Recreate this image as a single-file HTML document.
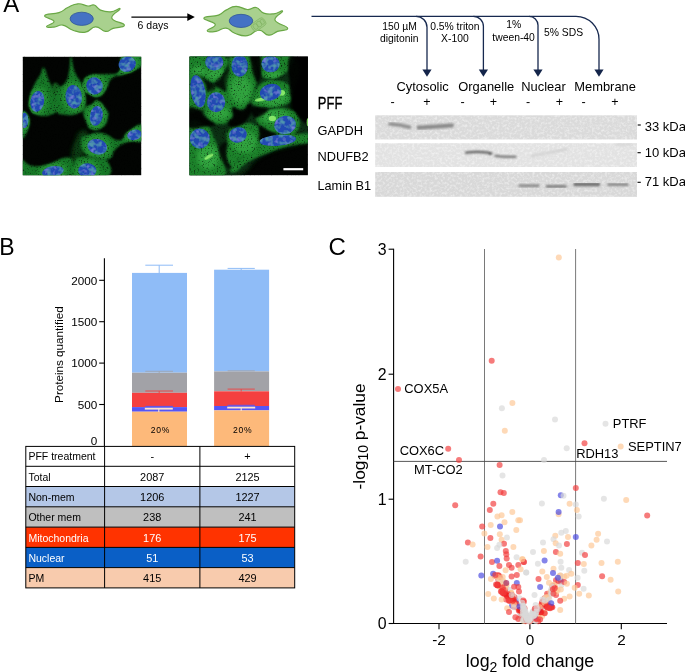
<!DOCTYPE html>
<html lang="en"><head><meta charset="utf-8"><title>Figure</title>
<style>html,body{margin:0;padding:0;background:#fff;overflow:hidden}svg{display:block}text{font-family:"Liberation Sans",Arial,sans-serif;fill:#000}</style>
</head><body>
<svg width="685" height="672" viewBox="0 0 685 672">
<rect width="685" height="672" fill="#fff"/>
<defs>
<filter id="b1" x="-20%" y="-50%" width="140%" height="200%"><feGaussianBlur stdDeviation="1.1 0.8"/></filter>
<filter id="b2" x="-20%" y="-20%" width="140%" height="140%"><feGaussianBlur stdDeviation="2.2"/></filter>
<filter id="b3" x="-20%" y="-20%" width="140%" height="140%"><feGaussianBlur stdDeviation="0.7"/></filter>
<filter id="b4" x="-20%" y="-20%" width="140%" height="140%"><feGaussianBlur stdDeviation="1.3"/></filter>
<filter id="noise" x="0" y="0" width="100%" height="100%">
  <feTurbulence type="fractalNoise" baseFrequency="0.7" numOctaves="2" seed="3" result="n"/>
  <feColorMatrix in="n" type="matrix" values="0 0 0 0 0  0 0 0 0 0  0 0 0 0 0  3 0 0 0 -1.7"/>
  <feComposite in2="SourceGraphic" operator="in"/>
</filter>
<filter id="grain" x="0" y="0" width="100%" height="100%">
  <feTurbulence type="fractalNoise" baseFrequency="0.4" numOctaves="2" seed="11" result="n"/>
  <feColorMatrix in="n" type="matrix" values="0 0 0 0 1  0 0 0 0 1  0 0 0 0 1  2.6 0 0 0 -1.1"/>
  <feComposite in2="SourceGraphic" operator="in"/>
</filter>
<clipPath id="cm1"><rect x="22.8" y="56.8" width="118.4" height="118.4"/></clipPath>
<clipPath id="cm2"><rect x="189.5" y="56.6" width="118.4" height="118.6"/></clipPath>
<clipPath id="cs1"><rect x="375.2" y="115.3" width="261.8" height="24.4"/></clipPath>
<clipPath id="cs2"><rect x="375.2" y="143.1" width="261.8" height="24"/></clipPath>
<clipPath id="cs3"><rect x="375.2" y="172" width="261.8" height="24.8"/></clipPath>
<filter id="mottle" x="-5%" y="-5%" width="110%" height="110%">
 <feGaussianBlur in="SourceGraphic" stdDeviation="0.55" result="s"/>
 <feTurbulence type="fractalNoise" baseFrequency="0.19" numOctaves="2" seed="5" result="n"/>
 <feColorMatrix in="n" type="matrix" values="0 0 0 0 0.08  0 0 0 0 0.30  0 0 0 0 0.42  3.2 0 0 0 -1.45" result="m"/>
 <feComposite in="m" in2="s" operator="in" result="mm"/>
 <feColorMatrix in="n" type="matrix" values="0 0 0 0 0.23  0 0 0 0 0.27  0 0 0 0 0.80  0 2.4 0 0 -1.3" result="p"/>
 <feComposite in="p" in2="s" operator="in" result="pp"/>
 <feMerge><feMergeNode in="s"/><feMergeNode in="pp"/><feMergeNode in="mm"/></feMerge>
</filter>
</defs>

<!-- Panel A -->
<text x="3.2" y="11.8" font-size="23.9">A</text>
<path d="M44.7 15.6 C46.0 13.4 53.3 14.6 59.0 12.6 C64.8 10.6 63.1 9.7 67.8 7.5 C72.6 5.3 72.9 4.1 77.9 3.8 C82.9 3.4 83.9 5.7 87.9 6.0 C92.0 6.3 91.1 4.0 94.2 5.0 C97.4 6.0 96.4 8.4 100.5 10.1 C104.6 11.7 105.7 12.1 110.6 11.8 C115.5 11.5 119.8 7.2 120.1 8.8 C120.4 10.4 110.7 14.0 111.8 18.1 C112.9 22.2 124.1 22.5 124.4 25.1 C124.7 27.7 117.8 26.8 113.1 28.4 C108.4 30.0 109.9 31.8 105.5 31.4 C101.1 31.0 100.5 26.7 95.5 26.9 C90.5 27.1 91.1 31.3 85.4 32.2 C79.8 33.0 78.5 31.9 72.9 30.2 C67.2 28.4 67.5 25.9 62.8 25.1 C58.1 24.4 58.1 26.8 54.0 27.1 C49.9 27.4 46.5 27.8 46.5 26.4 C46.5 24.9 54.5 24.1 54.0 21.4 C53.6 18.7 43.5 17.8 44.7 15.6Z" fill="#a9d18e" stroke="#6aa846" stroke-width="1.2"/>
<ellipse cx="81.7" cy="18.8" rx="11.6" ry="6.6" fill="#4472c4" stroke="#2f5597" stroke-width="0.8"/>
<line x1="131.4" y1="17.1" x2="190" y2="17.1" stroke="#000" stroke-width="1.3"/>
<path d="M187.3 13.3 L194.8 17.1 L187.3 20.9Z" fill="#000"/>
<text x="137.6" y="28.6" font-size="10.5">6 days</text>
<path d="M203.9 18.1 C204.7 15.8 213.0 17.1 218.5 15.1 C224.0 13.1 221.6 12.2 226.0 10.1 C230.4 7.9 230.7 6.4 236.1 6.3 C241.4 6.2 242.4 9.2 247.4 9.5 C252.4 9.9 252.1 6.7 256.2 7.5 C260.3 8.4 259.3 11.5 263.7 13.1 C268.1 14.6 269.0 14.3 273.8 13.8 C278.5 13.4 282.2 9.7 282.6 11.3 C282.9 12.9 273.8 15.9 275.0 20.1 C276.3 24.3 286.9 25.3 287.6 28.1 C288.2 31.0 282.2 29.6 277.5 31.4 C272.8 33.2 273.4 35.5 268.7 35.2 C264.0 34.9 264.0 30.0 258.7 30.2 C253.3 30.3 253.3 34.9 247.4 35.7 C241.4 36.4 240.2 35.1 234.8 33.2 C229.5 31.3 230.7 28.6 226.0 28.1 C221.3 27.7 220.7 30.8 216.0 31.4 C211.3 32.0 207.4 32.4 207.2 30.7 C207.0 28.9 216.0 27.5 215.2 24.4 C214.4 21.2 203.1 20.4 203.9 18.1Z" fill="#a9d18e" stroke="#6aa846" stroke-width="1.2"/>
<ellipse cx="241" cy="20.9" rx="11.8" ry="6.6" fill="#4472c4" stroke="#2f5597" stroke-width="0.8"/>
<g transform="translate(258.5 24.5) rotate(-35)" fill="none" stroke="#7fb25f" stroke-width="0.6"><rect x="-7.4" y="-4.3" width="14.8" height="8.6" rx="2.8" fill="#9fcb84"/><ellipse cx="-3.6" cy="0" rx="2.2" ry="3"/><ellipse cx="0.8" cy="0" rx="2.2" ry="3"/><ellipse cx="4.6" cy="0" rx="1.7" ry="2.7"/></g>
<!-- micrograph 1 -->
<rect x="22.8" y="56.8" width="118.4" height="118.4" fill="#020402"/>
<g clip-path="url(#cm1)">
<path d="M80.9 131.3 C84.1 129.9 87.3 129.4 88.2 134.9 C89.1 140.3 86.4 147.6 84.5 153.0 C82.7 158.5 83.6 153.9 80.9 156.7 C78.2 159.4 75.9 164.8 73.7 163.9 C71.4 163.0 71.4 158.9 71.8 153.0 C72.3 147.1 73.2 145.8 75.5 140.3 C77.7 134.9 77.7 132.6 80.9 131.3Z" fill="#0f4a18" filter="url(#b2)" opacity="0.8"/>
<path d="M51.9 85.9 C54.1 80.2 58.4 83.1 60.0 86.8 C61.6 90.4 59.4 94.0 58.2 100.4 C57.1 106.7 57.3 109.9 55.5 112.2 C53.7 114.5 51.9 116.0 51.0 109.5 C50.0 102.9 49.6 91.5 51.9 85.9Z" fill="#156a22" filter="url(#b4)" opacity="0.9"/>
<path d="M43.7 67.7 C45.7 68.6 46.0 72.7 48.2 78.6 C50.5 84.5 51.2 84.0 52.8 91.3 C54.4 98.6 55.3 101.7 54.6 107.7 C53.9 113.6 54.4 113.1 50.0 114.9 C45.7 116.7 42.3 116.3 37.3 114.9 C32.3 113.6 32.1 113.6 30.1 109.5 C28.0 105.4 28.3 104.5 29.2 98.6 C30.1 92.7 31.0 91.8 33.7 85.9 C36.4 80.0 37.6 79.5 40.1 75.0 C42.6 70.4 41.7 66.8 43.7 67.7Z" fill="#197727" filter="url(#b4)" opacity="1"/>
<path d="M70.9 55.9 C72.3 55.9 72.1 64.8 74.6 71.3 C77.1 77.9 78.4 77.2 80.9 82.2 C83.4 87.2 83.4 85.4 84.5 91.3 C85.7 97.2 86.8 100.4 85.5 105.8 C84.1 111.3 83.9 110.8 79.1 113.1 C74.3 115.4 72.3 115.4 66.4 114.9 C60.5 114.5 58.4 114.9 55.5 111.3 C52.5 107.6 54.1 105.8 54.6 100.4 C55.0 94.9 54.6 94.0 57.3 89.5 C60.0 85.0 62.5 86.8 65.5 82.2 C68.4 77.7 67.7 77.9 69.1 71.3 C70.5 64.8 69.6 55.9 70.9 55.9Z" fill="#197727" filter="url(#b4)" opacity="1"/>
<path d="M82.7 82.2 C84.3 78.6 84.1 77.0 90.0 75.0 C95.9 72.9 99.1 75.0 106.3 74.1 C113.6 73.2 115.0 75.9 119.0 71.3 C123.1 66.8 116.7 59.8 122.7 55.9 C128.7 52.0 137.9 53.9 143.0 55.9 C148.1 58.0 145.4 60.2 143.0 64.1 C140.6 67.9 138.6 68.6 133.6 71.3 C128.5 74.1 128.1 73.2 122.7 75.0 C117.2 76.8 115.9 75.0 111.8 78.6 C107.7 82.2 109.5 85.0 106.3 89.5 C103.2 94.0 103.2 95.4 99.1 96.8 C95.0 98.1 93.8 96.8 90.0 94.9 C86.1 93.1 85.5 92.7 83.6 89.5 C81.8 86.3 81.1 85.9 82.7 82.2Z" fill="#197727" filter="url(#b4)" opacity="1"/>
<path d="M83.6 109.5 C85.0 104.9 88.2 106.3 91.8 104.0 C95.4 101.7 94.5 99.0 98.2 100.4 C101.8 101.8 103.8 105.4 106.3 109.5 C108.8 113.6 109.1 112.2 108.1 116.7 C107.2 121.3 106.8 124.4 102.7 127.6 C98.6 130.8 95.9 130.8 91.8 129.4 C87.7 128.1 88.4 127.2 86.4 122.2 C84.3 117.2 82.3 114.0 83.6 109.5Z" fill="#197727" filter="url(#b4)" opacity="1"/>
<path d="M80.9 140.3 C81.8 135.8 82.7 136.7 88.2 134.9 C93.6 133.1 95.0 131.7 102.7 133.1 C110.4 134.4 112.7 140.8 119.0 140.3 C125.4 139.9 122.1 135.1 128.1 131.3 C134.1 127.4 139.3 122.6 143.0 124.9 C146.7 127.2 146.7 136.0 143.0 140.3 C139.3 144.6 135.0 139.9 128.1 142.1 C121.2 144.4 119.9 145.3 115.4 149.4 C110.9 153.5 114.5 156.2 110.0 158.5 C105.4 160.8 103.6 159.8 97.3 158.5 C90.9 157.1 88.6 157.6 84.5 153.0 C80.5 148.5 80.0 144.9 80.9 140.3Z" fill="#197727" filter="url(#b4)" opacity="1"/>
<path d="M21.0 113.1 C23.0 108.3 27.6 113.1 29.2 117.6 C30.8 122.2 29.4 126.5 27.4 131.3 C25.3 136.0 22.6 141.2 21.0 136.7 C19.4 132.2 19.0 117.9 21.0 113.1Z" fill="#197727" filter="url(#b4)" opacity="1"/>
<path d="M21.0 160.3 C23.7 157.5 25.1 164.8 31.9 165.7 C38.7 166.7 39.6 166.0 48.2 163.9 C56.9 161.9 60.0 157.6 66.4 157.6 C72.7 157.6 73.2 159.1 73.7 163.9 C74.1 168.8 81.4 173.7 68.2 177.0 C55.0 180.3 32.8 181.2 21.0 177.0 C9.2 172.8 18.3 163.1 21.0 160.3Z" fill="#197727" filter="url(#b4)" opacity="1"/>
<path d="M73.7 163.9 C75.5 158.8 75.0 158.0 80.9 156.7 C86.8 155.3 90.4 157.1 97.3 158.5 C104.1 159.8 105.9 157.5 108.1 162.1 C110.4 166.7 115.0 173.3 106.3 177.0 C97.7 180.7 81.8 180.3 73.7 177.0 C65.5 173.7 71.8 169.0 73.7 163.9Z" fill="#197727" filter="url(#b4)" opacity="1"/>
<clipPath id="cu1"><path d="M43.7 67.7 C45.7 68.6 46.0 72.7 48.2 78.6 C50.5 84.5 51.2 84.0 52.8 91.3 C54.4 98.6 55.3 101.7 54.6 107.7 C53.9 113.6 54.4 113.1 50.0 114.9 C45.7 116.7 42.3 116.3 37.3 114.9 C32.3 113.6 32.1 113.6 30.1 109.5 C28.0 105.4 28.3 104.5 29.2 98.6 C30.1 92.7 31.0 91.8 33.7 85.9 C36.4 80.0 37.6 79.5 40.1 75.0 C42.6 70.4 41.7 66.8 43.7 67.7Z"/><path d="M70.9 55.9 C72.3 55.9 72.1 64.8 74.6 71.3 C77.1 77.9 78.4 77.2 80.9 82.2 C83.4 87.2 83.4 85.4 84.5 91.3 C85.7 97.2 86.8 100.4 85.5 105.8 C84.1 111.3 83.9 110.8 79.1 113.1 C74.3 115.4 72.3 115.4 66.4 114.9 C60.5 114.5 58.4 114.9 55.5 111.3 C52.5 107.6 54.1 105.8 54.6 100.4 C55.0 94.9 54.6 94.0 57.3 89.5 C60.0 85.0 62.5 86.8 65.5 82.2 C68.4 77.7 67.7 77.9 69.1 71.3 C70.5 64.8 69.6 55.9 70.9 55.9Z"/><path d="M82.7 82.2 C84.3 78.6 84.1 77.0 90.0 75.0 C95.9 72.9 99.1 75.0 106.3 74.1 C113.6 73.2 115.0 75.9 119.0 71.3 C123.1 66.8 116.7 59.8 122.7 55.9 C128.7 52.0 137.9 53.9 143.0 55.9 C148.1 58.0 145.4 60.2 143.0 64.1 C140.6 67.9 138.6 68.6 133.6 71.3 C128.5 74.1 128.1 73.2 122.7 75.0 C117.2 76.8 115.9 75.0 111.8 78.6 C107.7 82.2 109.5 85.0 106.3 89.5 C103.2 94.0 103.2 95.4 99.1 96.8 C95.0 98.1 93.8 96.8 90.0 94.9 C86.1 93.1 85.5 92.7 83.6 89.5 C81.8 86.3 81.1 85.9 82.7 82.2Z"/><path d="M83.6 109.5 C85.0 104.9 88.2 106.3 91.8 104.0 C95.4 101.7 94.5 99.0 98.2 100.4 C101.8 101.8 103.8 105.4 106.3 109.5 C108.8 113.6 109.1 112.2 108.1 116.7 C107.2 121.3 106.8 124.4 102.7 127.6 C98.6 130.8 95.9 130.8 91.8 129.4 C87.7 128.1 88.4 127.2 86.4 122.2 C84.3 117.2 82.3 114.0 83.6 109.5Z"/><path d="M80.9 140.3 C81.8 135.8 82.7 136.7 88.2 134.9 C93.6 133.1 95.0 131.7 102.7 133.1 C110.4 134.4 112.7 140.8 119.0 140.3 C125.4 139.9 122.1 135.1 128.1 131.3 C134.1 127.4 139.3 122.6 143.0 124.9 C146.7 127.2 146.7 136.0 143.0 140.3 C139.3 144.6 135.0 139.9 128.1 142.1 C121.2 144.4 119.9 145.3 115.4 149.4 C110.9 153.5 114.5 156.2 110.0 158.5 C105.4 160.8 103.6 159.8 97.3 158.5 C90.9 157.1 88.6 157.6 84.5 153.0 C80.5 148.5 80.0 144.9 80.9 140.3Z"/><path d="M21.0 113.1 C23.0 108.3 27.6 113.1 29.2 117.6 C30.8 122.2 29.4 126.5 27.4 131.3 C25.3 136.0 22.6 141.2 21.0 136.7 C19.4 132.2 19.0 117.9 21.0 113.1Z"/><path d="M21.0 160.3 C23.7 157.5 25.1 164.8 31.9 165.7 C38.7 166.7 39.6 166.0 48.2 163.9 C56.9 161.9 60.0 157.6 66.4 157.6 C72.7 157.6 73.2 159.1 73.7 163.9 C74.1 168.8 81.4 173.7 68.2 177.0 C55.0 180.3 32.8 181.2 21.0 177.0 C9.2 172.8 18.3 163.1 21.0 160.3Z"/><path d="M73.7 163.9 C75.5 158.8 75.0 158.0 80.9 156.7 C86.8 155.3 90.4 157.1 97.3 158.5 C104.1 159.8 105.9 157.5 108.1 162.1 C110.4 166.7 115.0 173.3 106.3 177.0 C97.7 180.7 81.8 180.3 73.7 177.0 C65.5 173.7 71.8 169.0 73.7 163.9Z"/></clipPath>
<g clip-path="url(#cu1)">
<ellipse cx="127.2" cy="64.1" rx="12.3" ry="11.3" transform="rotate(-20 127.2 64.1)" fill="#38b046" filter="url(#b2)" opacity="0.5"/>
<ellipse cx="94.5" cy="85.9" rx="11.8" ry="12.3" transform="rotate(-20 94.5 85.9)" fill="#38b046" filter="url(#b2)" opacity="0.5"/>
<ellipse cx="73.7" cy="96.8" rx="11.8" ry="15.4" transform="rotate(-5 73.7 96.8)" fill="#38b046" filter="url(#b2)" opacity="0.5"/>
<ellipse cx="37.3" cy="101.3" rx="10.5" ry="14.2" transform="rotate(10 37.3 101.3)" fill="#38b046" filter="url(#b2)" opacity="0.5"/>
<ellipse cx="96.3" cy="115.8" rx="10.0" ry="13.6" transform="rotate(10 96.3 115.8)" fill="#38b046" filter="url(#b2)" opacity="0.5"/>
<ellipse cx="24.3" cy="120.4" rx="7.6" ry="11.3" transform="rotate(0 24.3 120.4)" fill="#38b046" filter="url(#b2)" opacity="0.5"/>
<ellipse cx="134.5" cy="134.9" rx="10.9" ry="8.7" transform="rotate(-15 134.5 134.9)" fill="#38b046" filter="url(#b2)" opacity="0.5"/>
<ellipse cx="97.3" cy="146.7" rx="13.6" ry="11.3" transform="rotate(15 97.3 146.7)" fill="#38b046" filter="url(#b2)" opacity="0.5"/>
<ellipse cx="52.8" cy="171.6" rx="14.5" ry="9.1" transform="rotate(-10 52.8 171.6)" fill="#38b046" filter="url(#b2)" opacity="0.5"/>
<ellipse cx="87.3" cy="170.6" rx="12.7" ry="10.9" transform="rotate(0 87.3 170.6)" fill="#38b046" filter="url(#b2)" opacity="0.5"/>
</g>
<g filter="url(#noise)" opacity="0.8"><rect x="22" y="56" width="120" height="120" fill="#031a06"/></g>
<g filter="url(#mottle)">
<ellipse cx="127.2" cy="64.1" rx="8.7" ry="7.6" transform="rotate(-20 127.2 64.1)" fill="#2448b2" opacity="1"/>
<ellipse cx="94.5" cy="85.9" rx="8.2" ry="8.7" transform="rotate(-20 94.5 85.9)" fill="#2448b2" opacity="1"/>
<ellipse cx="73.7" cy="96.8" rx="8.2" ry="11.8" transform="rotate(-5 73.7 96.8)" fill="#2448b2" opacity="1"/>
<ellipse cx="37.3" cy="101.3" rx="6.9" ry="10.5" transform="rotate(10 37.3 101.3)" fill="#2448b2" opacity="1"/>
<ellipse cx="96.3" cy="115.8" rx="6.4" ry="10.0" transform="rotate(10 96.3 115.8)" fill="#2448b2" opacity="1"/>
<ellipse cx="24.3" cy="120.4" rx="4.0" ry="7.6" transform="rotate(0 24.3 120.4)" fill="#2448b2" opacity="1"/>
<ellipse cx="134.5" cy="134.9" rx="7.3" ry="5.1" transform="rotate(-15 134.5 134.9)" fill="#2448b2" opacity="1"/>
<ellipse cx="97.3" cy="146.7" rx="10.0" ry="7.6" transform="rotate(15 97.3 146.7)" fill="#2448b2" opacity="1"/>
<ellipse cx="52.8" cy="171.6" rx="10.9" ry="5.4" transform="rotate(-10 52.8 171.6)" fill="#2448b2" opacity="1"/>
<ellipse cx="87.3" cy="170.6" rx="9.1" ry="7.3" transform="rotate(0 87.3 170.6)" fill="#2448b2" opacity="1"/>
</g>
</g>
<!-- micrograph 2 -->
<rect x="189.5" y="56.6" width="118.4" height="118.6" fill="#020402"/>
<g clip-path="url(#cm2)">
<path d="M188.0 55.0 C213.4 24.5 264.2 42.3 289.7 55.0 C315.1 67.7 286.9 90.4 289.7 105.8 C292.4 121.3 295.5 111.3 300.6 116.7 C305.6 122.2 307.6 121.7 310.0 127.6 C312.4 133.5 321.4 133.5 310.0 140.3 C298.6 147.1 283.0 145.7 264.3 154.9 C245.5 164.0 254.3 171.5 235.2 177.0 C216.1 182.5 199.8 207.5 188.0 177.0 C176.2 146.5 162.6 85.5 188.0 55.0Z" fill="#0a3512" filter="url(#b2)" opacity="0.9"/>
<path d="M188.0 56.8 C197.1 52.0 215.5 51.8 224.3 55.9 C233.2 60.0 225.7 66.6 223.4 73.2 C221.1 79.7 220.0 80.9 215.2 82.2 C210.5 83.6 209.3 80.9 204.3 78.6 C199.3 76.3 199.3 74.1 195.3 73.2 C191.2 72.2 189.8 79.1 188.0 75.0 C186.2 70.9 178.9 61.6 188.0 56.8Z" fill="#1c812b" filter="url(#b4)" opacity="1"/>
<path d="M231.6 55.9 C236.8 52.5 243.4 51.6 249.7 55.9 C256.1 60.2 255.6 65.2 257.0 73.2 C258.4 81.1 257.0 80.4 255.2 87.7 C253.4 94.9 252.9 96.8 249.7 102.2 C246.6 107.7 247.0 108.6 242.5 109.5 C237.9 110.4 235.7 110.4 231.6 105.8 C227.5 101.3 227.9 98.1 226.1 91.3 C224.3 84.5 223.6 84.1 224.3 78.6 C225.0 73.2 227.0 75.2 228.8 69.5 C230.7 63.8 226.4 59.3 231.6 55.9Z" fill="#1c812b" filter="url(#b4)" opacity="1"/>
<path d="M260.6 55.9 C267.9 51.6 282.2 53.4 289.7 55.9 C297.2 58.4 292.4 61.1 290.6 65.9 C288.8 70.7 287.6 71.8 282.4 75.0 C277.2 78.1 275.1 79.1 269.7 78.6 C264.3 78.1 262.9 78.8 260.6 73.2 C258.4 67.5 253.4 60.2 260.6 55.9Z" fill="#1c812b" filter="url(#b4)" opacity="1"/>
<path d="M188.0 74.1 C190.7 65.9 194.4 72.0 198.9 75.0 C203.4 77.9 204.3 78.1 206.2 85.9 C208.0 93.6 208.0 99.9 206.2 105.8 C204.3 111.7 203.4 109.0 198.9 109.5 C194.4 109.9 190.7 116.5 188.0 107.7 C185.3 98.8 185.3 82.2 188.0 74.1Z" fill="#1c812b" filter="url(#b4)" opacity="1"/>
<path d="M208.0 91.3 C211.6 86.3 213.4 86.8 218.9 87.7 C224.3 88.6 226.1 89.5 229.8 94.9 C233.4 100.4 233.4 103.1 233.4 109.5 C233.4 115.8 233.8 116.7 229.8 120.4 C225.7 124.0 223.0 124.9 217.0 124.0 C211.1 123.1 209.3 120.8 206.2 116.7 C203.0 112.6 203.9 114.0 204.3 107.7 C204.8 101.3 204.3 96.3 208.0 91.3Z" fill="#1c812b" filter="url(#b4)" opacity="1"/>
<path d="M251.5 98.6 C252.9 93.1 254.7 88.6 260.6 84.0 C266.5 79.5 267.9 80.0 275.1 80.4 C282.4 80.9 285.6 81.3 289.7 85.9 C293.8 90.4 293.3 93.6 291.5 98.6 C289.7 103.6 289.2 103.6 282.4 105.8 C275.6 108.1 271.1 107.7 264.3 107.7 C257.4 107.7 258.4 108.1 255.2 105.8 C252.0 103.6 250.2 104.0 251.5 98.6Z" fill="#1c812b" filter="url(#b4)" opacity="1"/>
<path d="M257.0 116.7 C259.3 112.6 261.5 111.3 269.7 109.5 C277.9 107.7 282.4 107.2 289.7 109.5 C296.9 111.7 296.9 113.1 298.7 118.5 C300.6 124.0 300.1 127.2 296.9 131.3 C293.8 135.3 292.8 134.9 286.0 134.9 C279.2 134.9 276.1 133.5 269.7 131.3 C263.3 129.0 263.8 129.4 260.6 125.8 C257.4 122.2 254.7 120.8 257.0 116.7Z" fill="#1c812b" filter="url(#b4)" opacity="1"/>
<path d="M188.0 126.7 C192.5 113.9 199.8 123.3 206.2 125.8 C212.5 128.3 210.2 130.8 213.4 136.7 C216.6 142.6 216.1 142.6 218.9 149.4 C221.6 156.2 223.9 157.0 224.3 163.9 C224.8 170.8 229.8 173.7 220.7 177.0 C211.6 180.3 196.2 189.6 188.0 177.0 C179.8 164.4 183.5 139.5 188.0 126.7Z" fill="#1c812b" filter="url(#b4)" opacity="1"/>
<path d="M227.9 131.3 C230.9 126.9 232.5 126.7 238.8 124.9 C245.2 123.1 247.9 121.9 253.4 124.0 C258.8 126.0 259.3 128.5 260.6 133.1 C262.0 137.6 261.5 137.2 258.8 142.1 C256.1 147.1 254.7 148.5 249.7 153.0 C244.7 157.6 243.4 156.7 238.8 160.3 C234.3 163.9 234.8 168.5 231.6 167.6 C228.4 166.7 227.3 163.0 226.1 156.7 C225.0 150.3 226.6 148.5 227.0 142.1 C227.5 135.8 225.0 135.6 227.9 131.3Z" fill="#1c812b" filter="url(#b4)" opacity="1"/>
<path d="M258.8 142.1 C267.0 136.7 265.6 136.9 275.1 134.9 C284.7 132.8 288.2 134.1 296.9 134.0 C305.6 133.9 306.7 132.5 310.0 134.5 C313.3 136.6 315.1 139.3 310.0 142.1 C304.9 145.0 300.2 143.1 289.7 145.8 C279.1 148.5 278.3 149.0 267.9 153.0 C257.4 157.1 256.1 157.3 247.9 162.1 C239.7 166.9 239.5 170.7 235.2 172.1 C230.9 173.5 228.8 171.4 230.7 167.6 C232.5 163.7 235.4 163.0 242.5 156.7 C249.5 150.3 250.6 147.6 258.8 142.1Z" fill="#1c812b" filter="url(#b4)" opacity="1"/>
<clipPath id="cu2"><path d="M188.0 56.8 C197.1 52.0 215.5 51.8 224.3 55.9 C233.2 60.0 225.7 66.6 223.4 73.2 C221.1 79.7 220.0 80.9 215.2 82.2 C210.5 83.6 209.3 80.9 204.3 78.6 C199.3 76.3 199.3 74.1 195.3 73.2 C191.2 72.2 189.8 79.1 188.0 75.0 C186.2 70.9 178.9 61.6 188.0 56.8Z"/><path d="M231.6 55.9 C236.8 52.5 243.4 51.6 249.7 55.9 C256.1 60.2 255.6 65.2 257.0 73.2 C258.4 81.1 257.0 80.4 255.2 87.7 C253.4 94.9 252.9 96.8 249.7 102.2 C246.6 107.7 247.0 108.6 242.5 109.5 C237.9 110.4 235.7 110.4 231.6 105.8 C227.5 101.3 227.9 98.1 226.1 91.3 C224.3 84.5 223.6 84.1 224.3 78.6 C225.0 73.2 227.0 75.2 228.8 69.5 C230.7 63.8 226.4 59.3 231.6 55.9Z"/><path d="M260.6 55.9 C267.9 51.6 282.2 53.4 289.7 55.9 C297.2 58.4 292.4 61.1 290.6 65.9 C288.8 70.7 287.6 71.8 282.4 75.0 C277.2 78.1 275.1 79.1 269.7 78.6 C264.3 78.1 262.9 78.8 260.6 73.2 C258.4 67.5 253.4 60.2 260.6 55.9Z"/><path d="M188.0 74.1 C190.7 65.9 194.4 72.0 198.9 75.0 C203.4 77.9 204.3 78.1 206.2 85.9 C208.0 93.6 208.0 99.9 206.2 105.8 C204.3 111.7 203.4 109.0 198.9 109.5 C194.4 109.9 190.7 116.5 188.0 107.7 C185.3 98.8 185.3 82.2 188.0 74.1Z"/><path d="M208.0 91.3 C211.6 86.3 213.4 86.8 218.9 87.7 C224.3 88.6 226.1 89.5 229.8 94.9 C233.4 100.4 233.4 103.1 233.4 109.5 C233.4 115.8 233.8 116.7 229.8 120.4 C225.7 124.0 223.0 124.9 217.0 124.0 C211.1 123.1 209.3 120.8 206.2 116.7 C203.0 112.6 203.9 114.0 204.3 107.7 C204.8 101.3 204.3 96.3 208.0 91.3Z"/><path d="M251.5 98.6 C252.9 93.1 254.7 88.6 260.6 84.0 C266.5 79.5 267.9 80.0 275.1 80.4 C282.4 80.9 285.6 81.3 289.7 85.9 C293.8 90.4 293.3 93.6 291.5 98.6 C289.7 103.6 289.2 103.6 282.4 105.8 C275.6 108.1 271.1 107.7 264.3 107.7 C257.4 107.7 258.4 108.1 255.2 105.8 C252.0 103.6 250.2 104.0 251.5 98.6Z"/><path d="M257.0 116.7 C259.3 112.6 261.5 111.3 269.7 109.5 C277.9 107.7 282.4 107.2 289.7 109.5 C296.9 111.7 296.9 113.1 298.7 118.5 C300.6 124.0 300.1 127.2 296.9 131.3 C293.8 135.3 292.8 134.9 286.0 134.9 C279.2 134.9 276.1 133.5 269.7 131.3 C263.3 129.0 263.8 129.4 260.6 125.8 C257.4 122.2 254.7 120.8 257.0 116.7Z"/><path d="M188.0 126.7 C192.5 113.9 199.8 123.3 206.2 125.8 C212.5 128.3 210.2 130.8 213.4 136.7 C216.6 142.6 216.1 142.6 218.9 149.4 C221.6 156.2 223.9 157.0 224.3 163.9 C224.8 170.8 229.8 173.7 220.7 177.0 C211.6 180.3 196.2 189.6 188.0 177.0 C179.8 164.4 183.5 139.5 188.0 126.7Z"/><path d="M227.9 131.3 C230.9 126.9 232.5 126.7 238.8 124.9 C245.2 123.1 247.9 121.9 253.4 124.0 C258.8 126.0 259.3 128.5 260.6 133.1 C262.0 137.6 261.5 137.2 258.8 142.1 C256.1 147.1 254.7 148.5 249.7 153.0 C244.7 157.6 243.4 156.7 238.8 160.3 C234.3 163.9 234.8 168.5 231.6 167.6 C228.4 166.7 227.3 163.0 226.1 156.7 C225.0 150.3 226.6 148.5 227.0 142.1 C227.5 135.8 225.0 135.6 227.9 131.3Z"/><path d="M258.8 142.1 C267.0 136.7 265.6 136.9 275.1 134.9 C284.7 132.8 288.2 134.1 296.9 134.0 C305.6 133.9 306.7 132.5 310.0 134.5 C313.3 136.6 315.1 139.3 310.0 142.1 C304.9 145.0 300.2 143.1 289.7 145.8 C279.1 148.5 278.3 149.0 267.9 153.0 C257.4 157.1 256.1 157.3 247.9 162.1 C239.7 166.9 239.5 170.7 235.2 172.1 C230.9 173.5 228.8 171.4 230.7 167.6 C232.5 163.7 235.4 163.0 242.5 156.7 C249.5 150.3 250.6 147.6 258.8 142.1Z"/></clipPath>
<g clip-path="url(#cu2)">
<ellipse cx="215.2" cy="73.2" rx="9.1" ry="7.3" transform="rotate(0 215.2 73.2)" fill="#45c452" filter="url(#b2)" opacity="0.5"/>
<ellipse cx="240.7" cy="89.5" rx="10.9" ry="14.5" transform="rotate(0 240.7 89.5)" fill="#45c452" filter="url(#b2)" opacity="0.5"/>
<ellipse cx="273.3" cy="96.8" rx="14.5" ry="9.1" transform="rotate(0 273.3 96.8)" fill="#45c452" filter="url(#b2)" opacity="0.5"/>
<ellipse cx="275.1" cy="116.7" rx="14.5" ry="7.3" transform="rotate(0 275.1 116.7)" fill="#45c452" filter="url(#b2)" opacity="0.5"/>
<ellipse cx="244.3" cy="142.1" rx="12.7" ry="10.9" transform="rotate(0 244.3 142.1)" fill="#45c452" filter="url(#b2)" opacity="0.5"/>
<ellipse cx="208.0" cy="156.7" rx="10.9" ry="12.7" transform="rotate(0 208.0 156.7)" fill="#45c452" filter="url(#b2)" opacity="0.5"/>
<ellipse cx="218.9" cy="113.1" rx="10.9" ry="7.3" transform="rotate(0 218.9 113.1)" fill="#45c452" filter="url(#b2)" opacity="0.5"/>
<ellipse cx="198.9" cy="71.3" rx="7.3" ry="5.4" transform="rotate(0 198.9 71.3)" fill="#45c452" filter="url(#b2)" opacity="0.5"/>
<ellipse cx="273.3" cy="75.0" rx="9.1" ry="4.5" transform="rotate(0 273.3 75.0)" fill="#45c452" filter="url(#b2)" opacity="0.5"/>
</g>
<path d="M250.6 55.0 C252.7 52.3 257.1 50.5 259.7 55.0 C262.3 59.5 261.4 66.3 261.0 73.2 C260.5 80.0 259.6 81.3 257.9 82.2 C256.2 83.1 255.9 80.9 254.3 76.8 C252.7 72.7 252.5 71.3 251.5 65.9 C250.6 60.4 248.6 57.7 250.6 55.0Z" fill="#020602" filter="url(#b4)" opacity="0.9"/>
<path d="M188.0 109.1 C190.7 104.9 194.6 107.9 198.9 110.0 C203.2 112.1 201.2 114.0 205.2 117.6 C209.3 121.3 215.0 122.4 215.2 124.5 C215.5 126.7 213.0 125.6 206.2 126.2 C199.3 126.7 192.5 131.0 188.0 126.7 C183.5 122.4 185.3 113.3 188.0 109.1Z" fill="#020602" filter="url(#b4)" opacity="0.9"/>
<path d="M232.5 107.3 C234.8 105.7 238.4 111.3 242.5 110.4 C246.6 109.5 246.5 103.9 248.8 103.7 C251.2 103.4 252.1 105.7 251.9 109.5 C251.7 113.2 250.7 114.7 247.9 118.5 C245.1 122.4 245.0 122.9 240.7 124.9 C236.3 126.9 233.6 127.6 230.7 126.7 C227.7 125.8 228.2 123.8 228.8 121.3 C229.5 118.8 232.5 120.2 233.4 116.7 C234.3 113.2 230.2 108.9 232.5 107.3Z" fill="#020602" filter="url(#b4)" opacity="0.9"/>
<path d="M251.5 107.3 C254.5 105.6 260.2 107.2 264.3 108.0 C268.3 108.8 269.5 108.1 267.9 110.4 C266.3 112.6 261.8 116.0 257.9 117.1 C254.0 118.2 254.0 117.4 252.5 114.9 C250.9 112.5 248.6 109.0 251.5 107.3Z" fill="#020602" filter="url(#b4)" opacity="0.85"/>
<path d="M260.6 126.2 C263.2 125.8 266.0 129.4 269.7 131.6 C273.4 133.8 277.8 132.6 275.5 134.9 C273.2 137.2 264.7 141.1 260.6 140.7 C256.6 140.2 259.4 136.7 259.4 133.1 C259.4 129.4 258.0 126.5 260.6 126.2Z" fill="#020602" filter="url(#b4)" opacity="0.85"/>
<path d="M224.3 73.2 C225.8 72.1 228.7 66.9 229.4 69.2 C230.1 71.4 228.0 76.7 227.0 82.2 C226.1 87.8 227.6 89.9 225.6 91.3 C223.5 92.7 221.5 89.9 218.9 87.7 C216.3 85.5 214.1 86.1 215.2 82.6 C216.4 79.1 221.1 75.9 223.4 73.5 C225.7 71.2 222.8 74.2 224.3 73.2Z" fill="#020602" filter="url(#b4)" opacity="0.6"/>
<path d="M218.9 149.4 C219.5 143.9 225.1 140.3 227.0 142.1 C228.9 144.0 225.4 150.2 226.5 156.7 C227.6 163.1 232.1 166.0 231.6 167.9 C231.0 169.8 227.5 168.9 224.3 164.3 C221.1 159.7 218.2 154.9 218.9 149.4Z" fill="#020602" filter="url(#b4)" opacity="0.7"/>
<path d="M198.9 74.6 C199.3 76.3 204.0 81.3 206.2 85.5 C208.3 89.7 205.3 90.8 207.6 91.3 C209.9 91.9 216.1 90.9 215.2 87.7 C214.4 84.5 208.4 81.9 204.3 78.6 C200.3 75.3 198.4 72.9 198.9 74.6Z" fill="#020602" filter="url(#b4)" opacity="0.6"/>
<path d="M290.6 55.0 C295.7 47.3 305.1 40.0 310.0 55.0 C314.9 70.0 312.6 99.2 310.0 114.9 C307.4 130.6 304.3 121.7 299.7 117.6 C295.0 113.6 294.0 106.5 291.5 98.6 C289.0 90.6 289.9 96.8 289.7 85.9 C289.4 75.0 285.5 62.7 290.6 55.0Z" fill="#020602" filter="url(#b4)" opacity="0.9"/>
<g filter="url(#noise)" opacity="0.8"><rect x="189" y="56" width="120" height="120" fill="#031a06"/></g>
<ellipse cx="281.5" cy="92.8" rx="3.6" ry="2.9" transform="rotate(0 281.5 92.8)" fill="#8cec6c" filter="url(#b3)" opacity="0.95"/>
<ellipse cx="260.6" cy="99.5" rx="5.8" ry="1.8" transform="rotate(-10 260.6 99.5)" fill="#8cec6c" filter="url(#b3)" opacity="0.95"/>
<ellipse cx="272.4" cy="118.5" rx="3.6" ry="2.7" transform="rotate(0 272.4 118.5)" fill="#8cec6c" filter="url(#b3)" opacity="0.95"/>
<ellipse cx="307.8" cy="122.2" rx="1.1" ry="4.0" transform="rotate(0 307.8 122.2)" fill="#8cec6c" filter="url(#b3)" opacity="0.95"/>
<ellipse cx="208.9" cy="156.7" rx="5.1" ry="1.6" transform="rotate(-30 208.9 156.7)" fill="#8cec6c" filter="url(#b3)" opacity="0.95"/>
<g filter="url(#mottle)">
<ellipse cx="214.3" cy="62.3" rx="9.1" ry="8.2" transform="rotate(0 214.3 62.3)" fill="#2448b2" opacity="1"/>
<ellipse cx="239.7" cy="65.9" rx="8.2" ry="10.9" transform="rotate(0 239.7 65.9)" fill="#2448b2" opacity="1"/>
<ellipse cx="270.6" cy="64.1" rx="9.1" ry="8.2" transform="rotate(0 270.6 64.1)" fill="#2448b2" opacity="1"/>
<ellipse cx="198.0" cy="91.3" rx="7.3" ry="16.3" transform="rotate(-10 198.0 91.3)" fill="#2448b2" opacity="1"/>
<ellipse cx="216.1" cy="102.2" rx="9.1" ry="10.0" transform="rotate(0 216.1 102.2)" fill="#2448b2" opacity="1"/>
<ellipse cx="270.6" cy="92.2" rx="10.9" ry="8.2" transform="rotate(-15 270.6 92.2)" fill="#2448b2" opacity="1"/>
<ellipse cx="285.1" cy="124.9" rx="10.9" ry="9.1" transform="rotate(-10 285.1 124.9)" fill="#2448b2" opacity="1"/>
<ellipse cx="199.8" cy="138.5" rx="10.0" ry="10.0" transform="rotate(0 199.8 138.5)" fill="#2448b2" opacity="1"/>
<ellipse cx="237.9" cy="134.9" rx="9.1" ry="7.6" transform="rotate(-15 237.9 134.9)" fill="#2448b2" opacity="1"/>
<ellipse cx="277.9" cy="140.3" rx="18.2" ry="5.4" transform="rotate(-5 277.9 140.3)" fill="#2448b2" opacity="1"/>
</g>
</g>
<line x1="283.4" y1="169.2" x2="303.2" y2="169.2" stroke="#fff" stroke-width="2.2"/>
<!-- fractionation scheme -->
<g fill="none" stroke="#17294f" stroke-width="1.3">
<path d="M311.5 16.3 H576 A23 23 0 0 1 599 39.3 V70"/>
<path d="M416 16.3 A11 11 0 0 1 427 27.3 V70"/>
<path d="M473.4 16.3 A10 10 0 0 1 483.4 26.3 V70"/>
<path d="M529 16.3 A9 9 0 0 1 538 25.3 V70"/>
</g>
<g fill="#14254a">
<path d="M422.4 69.4 H431.6 L427 76.8Z"/>
<path d="M478.8 69.4 H488 L483.4 76.8Z"/>
<path d="M533.4 69.4 H542.6 L538 76.8Z"/>
<path d="M594.4 69.4 H603.6 L599 76.8Z"/>
</g>
<g font-size="10.35" text-anchor="middle">
<text x="399.5" y="29.6">150 µM</text>
<text x="399.2" y="41.5">digitonin</text>
<text x="454.9" y="29.6">0.5% triton</text>
<text x="454.9" y="41.5">X-100</text>
<text x="513.8" y="28.1">1%</text>
<text x="513.6" y="41">tween-40</text>
<text x="563.6" y="36.2">5% SDS</text>
</g>
<g font-size="13">
<text x="396.5" y="91" font-size="12.9">Cytosolic</text>
<text x="458.3" y="91" font-size="12.9">Organelle</text>
<text x="521.3" y="91" font-size="12.9">Nuclear</text>
<text x="574.3" y="91" font-size="12.9">Membrane</text>
<text x="317.8" y="109.1" font-size="16.2" textLength="24.6" lengthAdjust="spacingAndGlyphs" stroke="#000" stroke-width="0.3">PFF</text>
<text x="317.5" y="135" font-size="12.8">GAPDH</text>
<text x="317.5" y="160.6" font-size="12.8">NDUFB2</text>
<text x="317.5" y="189.6" font-size="12.7">Lamin B1</text>
<text x="644.8" y="130.7">33 kDa</text>
<text x="644.8" y="156.9">10 kDa</text>
<text x="644.8" y="185.8">71 kDa</text>
</g>
<g font-size="12.5" text-anchor="middle">
<text x="392.6" y="106.2">-</text><text x="427" y="106.2">+</text>
<text x="462.6" y="106.2">-</text><text x="493.3" y="106.2">+</text>
<text x="528.2" y="106.2">-</text><text x="559.5" y="106.2">+</text>
<text x="583.7" y="106.2">-</text><text x="615" y="106.2">+</text>
</g>
<g stroke="#000" stroke-width="1.1">
<line x1="637.7" y1="125" x2="640.8" y2="125"/>
<line x1="637.5" y1="152.7" x2="640.8" y2="152.7"/>
<line x1="637.5" y1="182.3" x2="640.8" y2="182.3"/>
</g>
<!-- blot strips -->
<rect x="375.2" y="115.3" width="261.8" height="24.4" fill="#dadada"/>
<rect x="375.2" y="143.1" width="261.8" height="24" fill="#e2e2e2"/>
<rect x="375.2" y="172" width="261.8" height="24.8" fill="#d8d8d8"/>
<g filter="url(#grain)" opacity="0.45"><rect x="375.2" y="115.3" width="261.8" height="81.5" fill="#fff"/></g>
<rect x="375.2" y="139.7" width="261.8" height="3.4" fill="#fff"/>
<rect x="375.2" y="167.1" width="261.8" height="4.9" fill="#fff"/>
<g clip-path="url(#cs1)"><g filter="url(#b1)" fill="none" stroke-linecap="round">
<path d="M390 124 Q400 124.4 409.5 127.2" stroke="#8e8e8e" stroke-width="3.7"/>
<path d="M418.5 127.6 Q436 126.8 452 125.4" stroke="#8a8a8a" stroke-width="4.1"/>
</g></g>
<g clip-path="url(#cs2)"><g filter="url(#b1)" fill="none" stroke-linecap="round">
<path d="M466 152.6 Q478 151.4 486 152.4 T490 154" stroke="#5a5a5a" stroke-width="2.3"/>
<path d="M495.5 155.8 Q503 157.2 515.5 156.8" stroke="#727272" stroke-width="2.3"/>
<path d="M532 156 Q545 153 566 149.5" stroke="#d2d2d2" stroke-width="2.5"/>
<path d="M616 144.5 H632" stroke="#d0d0d0" stroke-width="1.5"/>
</g></g>
<g clip-path="url(#cs3)"><g filter="url(#b1)" fill="none" stroke-linecap="round">
<path d="M519.5 185.8 H538.5" stroke="#808080" stroke-width="2.4"/>
<path d="M547 186.4 H565.5" stroke="#7c7c7c" stroke-width="2.6"/>
<path d="M575 184.4 H598.5" stroke="#707070" stroke-width="3.6"/>
<path d="M608.5 184.6 H627.5" stroke="#858585" stroke-width="2.6"/>
</g></g>

<!-- Panel B -->
<text x="-0.8" y="254.5" font-size="23">B</text>
<g stroke="#000" stroke-width="1.1" fill="none">
<line x1="104.4" y1="258.3" x2="104.4" y2="446"/>
<line x1="99.2" y1="280.3" x2="104.4" y2="280.3"/>
<line x1="99.2" y1="321.7" x2="104.4" y2="321.7"/>
<line x1="99.2" y1="363.1" x2="104.4" y2="363.1"/>
<line x1="99.2" y1="404.5" x2="104.4" y2="404.5"/>
</g>
<g font-size="11.7" text-anchor="end">
<text x="97.2" y="284.5">2000</text>
<text x="97.2" y="325.9">1500</text>
<text x="97.2" y="367.3">1000</text>
<text x="97.2" y="408.7">500</text>
<text x="97.2" y="444.5">0</text>
</g>
<text transform="translate(63.1 402.9) rotate(-90)" font-size="11.8" textLength="96.6" lengthAdjust="spacingAndGlyphs">Proteins quantified</text>
<!-- bar 1 -->
<rect x="132" y="272.9" width="55" height="99.8" fill="#8fbcf7"/>
<rect x="132" y="372.7" width="55" height="20.1" fill="#a2a2a7"/>
<rect x="132" y="392.8" width="55" height="14.3" fill="#f44040"/>
<rect x="132" y="407.1" width="55" height="4.6" fill="#5555f5"/>
<rect x="132" y="411.7" width="55" height="34.3" fill="#fdb97a"/>
<!-- bar 2 -->
<rect x="214.1" y="269.7" width="55" height="101.7" fill="#8fbcf7"/>
<rect x="214.1" y="371.4" width="55" height="19.9" fill="#a2a2a7"/>
<rect x="214.1" y="391.3" width="55" height="14.7" fill="#f44040"/>
<rect x="214.1" y="406" width="55" height="4.4" fill="#5555f5"/>
<rect x="214.1" y="410.4" width="55" height="35.6" fill="#fdb97a"/>
<!-- error bars -->
<g fill="none" stroke-width="1">
<path d="M145.3 265.2 H173 M159.2 265.2 V273" stroke="#8fbcf7"/>
<path d="M227.6 268.4 H254.8 M241.2 268.4 V270" stroke="#8fbcf7"/>
<path d="M145.3 371.3 H173 M159.2 371.3 V373" stroke="#a2a2a7" stroke-width="0.8"/>
<path d="M227.6 370.8 H254.8" stroke="#a2a2a7" stroke-width="0.8"/>
<path d="M145.3 391 H173 M159.2 391 V393" stroke="#f44040" stroke-width="0.9"/>
<path d="M227.6 389.1 H254.8 M241.2 389.1 V391.5" stroke="#f44040" stroke-width="0.9"/>
<path d="M145.3 406.4 H173" stroke="#5555f5"/>
<path d="M227.6 405.3 H254.8" stroke="#5555f5"/>
<path d="M144.8 408.7 H172.8" stroke="#fde3cc" stroke-width="1.8"/>
<path d="M158.8 409 V412" stroke="#fde3cc" stroke-width="1.1"/>
<path d="M227.2 407.6 H255.2" stroke="#fde3cc" stroke-width="1.8"/>
<path d="M241.2 408 V411" stroke="#fde3cc" stroke-width="1.1"/>
</g>
<text x="150.8" y="433" font-size="8.6" textLength="18.6" lengthAdjust="spacing" fill="#222">20%</text>
<text x="233" y="433" font-size="8.6" textLength="18.6" lengthAdjust="spacing" fill="#222">20%</text>
<!-- table -->
<rect x="25.8" y="486.5" width="268.9" height="20.3" fill="#b4c7e7"/>
<rect x="25.8" y="506.8" width="268.9" height="20.3" fill="#bfbfbf"/>
<rect x="25.8" y="527.1" width="268.9" height="20.3" fill="#ff3300"/>
<rect x="25.8" y="547.4" width="268.9" height="20.2" fill="#0a5fc6"/>
<rect x="25.8" y="567.6" width="268.9" height="20.3" fill="#f8cbad"/>
<g stroke="#000" stroke-width="1" fill="none">
<rect x="25.8" y="446.4" width="268.9" height="141.5"/>
<path d="M104.6 446.4 V587.9 M199.9 446.4 V587.9"/>
<path d="M25.8 466.3 H294.7 M25.8 486.5 H294.7 M25.8 506.8 H294.7 M25.8 527.1 H294.7 M25.8 547.4 H294.7 M25.8 567.6 H294.7"/>
</g>
<g font-size="10.5">
<text x="28.4" y="460.4">PFF treatment</text>
<text x="28.4" y="480.7">Total</text>
<text x="28.4" y="501.0">Non-mem</text>
<text x="28.4" y="521.2">Other mem</text>
<text x="28.4" y="541.5" style="fill:#fff">Mitochondria</text>
<text x="28.4" y="561.8" style="fill:#fff">Nuclear</text>
<text x="28.4" y="582.1">PM</text>
</g>
<g font-size="10.9" text-anchor="middle">
<text x="152.2" y="460.4">-</text><text x="247.5" y="460.4">+</text>
<text x="152.2" y="480.7">2087</text><text x="247.5" y="480.7">2125</text>
<text x="152.2" y="501.0">1206</text><text x="247.5" y="501.0">1227</text>
<text x="152.2" y="521.2">238</text><text x="247.5" y="521.2">241</text>
<text x="152.2" y="541.5" style="fill:#fff">176</text><text x="247.5" y="541.5" style="fill:#fff">175</text>
<text x="152.2" y="561.8" style="fill:#fff">51</text><text x="247.5" y="561.8" style="fill:#fff">53</text>
<text x="152.2" y="582.1">415</text><text x="247.5" y="582.1">429</text>
</g>

<!-- Panel C -->
<text x="328.6" y="255" font-size="24">C</text>
<g stroke="#000" stroke-width="1.1" fill="none">
<path d="M393.6 248.7 V623.5 H667"/>
<line x1="388.6" y1="249.2" x2="393.6" y2="249.2"/>
<line x1="388.6" y1="374.2" x2="393.6" y2="374.2"/>
<line x1="388.6" y1="499.2" x2="393.6" y2="499.2"/>
<line x1="388.6" y1="623.5" x2="393.6" y2="623.5"/>
<line x1="439.0" y1="623.5" x2="439.0" y2="629.2"/>
<line x1="529.9" y1="623.5" x2="529.9" y2="629.2"/>
<line x1="621.3" y1="623.5" x2="621.3" y2="629.2"/>
</g>
<g stroke="#6a6a6a" stroke-width="0.9"><line x1="484.5" y1="249" x2="484.5" y2="623.5"/><line x1="575.6" y1="249" x2="575.6" y2="623.5"/><line x1="393.6" y1="461.4" x2="667" y2="461.4" stroke="#444"/></g>
<g font-size="15.9" text-anchor="end"><text x="386.6" y="255">3</text><text x="386.6" y="380">2</text><text x="386.6" y="505">1</text><text x="386.6" y="629.3">0</text></g>
<g font-size="15.3" text-anchor="middle"><text x="439" y="645.4">-2</text><text x="530" y="645.4">0</text><text x="621.4" y="645.4">2</text></g>
<text x="465.8" y="667" font-size="17.8">log<tspan font-size="14" dy="4.5">2</tspan><tspan dy="-4.5"> fold change</tspan></text>
<text transform="translate(364.5 489.4) rotate(-90)" font-size="17.3">-log<tspan font-size="14" dy="3.6">10</tspan><tspan dy="-3.6"> p-value</tspan></text>
<g fill-opacity="0.68">
<circle cx="547.8" cy="604.2" r="3" fill="#f23c3c"/>
<circle cx="554.4" cy="586.1" r="3" fill="#fdc795"/>
<circle cx="505.7" cy="586.7" r="3" fill="#fdc795"/>
<circle cx="503.5" cy="581.3" r="3" fill="#fdc795"/>
<circle cx="541.8" cy="606.9" r="3" fill="#f23c3c"/>
<circle cx="525.5" cy="621.3" r="3" fill="#f23c3c"/>
<circle cx="520.8" cy="615.7" r="3" fill="#f23c3c"/>
<circle cx="510.6" cy="597.4" r="3" fill="#fdc795"/>
<circle cx="548.1" cy="594.9" r="3" fill="#fdc795"/>
<circle cx="520.4" cy="606.4" r="3" fill="#fdc795"/>
<circle cx="522.1" cy="610.5" r="3" fill="#fdc795"/>
<circle cx="528.3" cy="618.6" r="3" fill="#d9d9d9"/>
<circle cx="521.0" cy="607.3" r="3" fill="#f23c3c"/>
<circle cx="556.0" cy="580.2" r="3" fill="#f23c3c"/>
<circle cx="553.8" cy="591.3" r="3" fill="#d9d9d9"/>
<circle cx="521.9" cy="612.5" r="3" fill="#f23c3c"/>
<circle cx="529.5" cy="621.3" r="3" fill="#f23c3c"/>
<circle cx="526.5" cy="618.9" r="3" fill="#fdc795"/>
<circle cx="515.5" cy="602.6" r="3" fill="#fdc795"/>
<circle cx="532.4" cy="617.8" r="3" fill="#f23c3c"/>
<circle cx="512.0" cy="605.7" r="3" fill="#4a4ae0"/>
<circle cx="514.6" cy="597.3" r="3" fill="#f23c3c"/>
<circle cx="518.7" cy="607.0" r="3" fill="#fdc795"/>
<circle cx="529.9" cy="621.4" r="3" fill="#d9d9d9"/>
<circle cx="516.6" cy="607.3" r="3" fill="#f23c3c"/>
<circle cx="547.9" cy="596.9" r="3" fill="#fdc795"/>
<circle cx="532.5" cy="618.0" r="3" fill="#f23c3c"/>
<circle cx="547.8" cy="595.5" r="3" fill="#d9d9d9"/>
<circle cx="506.5" cy="585.3" r="3" fill="#fdc795"/>
<circle cx="545.9" cy="599.3" r="3" fill="#d9d9d9"/>
<circle cx="547.0" cy="596.8" r="3" fill="#fdc795"/>
<circle cx="535.2" cy="613.1" r="3" fill="#f23c3c"/>
<circle cx="553.4" cy="585.0" r="3" fill="#fdc795"/>
<circle cx="526.8" cy="619.9" r="3" fill="#fdc795"/>
<circle cx="510.9" cy="594.2" r="3" fill="#f23c3c"/>
<circle cx="538.2" cy="621.2" r="3" fill="#f23c3c"/>
<circle cx="523.2" cy="613.3" r="3" fill="#fdc795"/>
<circle cx="535.0" cy="617.8" r="3" fill="#f23c3c"/>
<circle cx="543.7" cy="604.3" r="3" fill="#fdc795"/>
<circle cx="522.5" cy="617.5" r="3" fill="#d9d9d9"/>
<circle cx="544.1" cy="603.2" r="3" fill="#f23c3c"/>
<circle cx="556.0" cy="595.1" r="3" fill="#f23c3c"/>
<circle cx="521.6" cy="610.7" r="3" fill="#fdc795"/>
<circle cx="509.7" cy="589.7" r="3" fill="#d9d9d9"/>
<circle cx="559.9" cy="579.9" r="3" fill="#f23c3c"/>
<circle cx="503.1" cy="583.1" r="3" fill="#d9d9d9"/>
<circle cx="544.6" cy="598.3" r="3" fill="#f23c3c"/>
<circle cx="528.3" cy="619.2" r="3" fill="#4a4ae0"/>
<circle cx="559.7" cy="581.9" r="3" fill="#fdc795"/>
<circle cx="515.2" cy="604.8" r="3" fill="#fdc795"/>
<circle cx="546.0" cy="601.2" r="3" fill="#f23c3c"/>
<circle cx="551.1" cy="591.8" r="3" fill="#d9d9d9"/>
<circle cx="547.1" cy="593.8" r="3" fill="#f23c3c"/>
<circle cx="511.1" cy="592.9" r="3" fill="#fdc795"/>
<circle cx="552.6" cy="588.8" r="3" fill="#d9d9d9"/>
<circle cx="540.3" cy="610.0" r="3" fill="#f23c3c"/>
<circle cx="516.8" cy="605.3" r="3" fill="#fdc795"/>
<circle cx="520.4" cy="610.5" r="3" fill="#f23c3c"/>
<circle cx="519.7" cy="608.9" r="3" fill="#f23c3c"/>
<circle cx="542.0" cy="616.5" r="3" fill="#fdc795"/>
<circle cx="560.0" cy="579.3" r="3" fill="#fdc795"/>
<circle cx="552.2" cy="590.9" r="3" fill="#f23c3c"/>
<circle cx="553.7" cy="584.7" r="3" fill="#fdc795"/>
<circle cx="544.9" cy="598.4" r="3" fill="#fdc795"/>
<circle cx="513.4" cy="598.8" r="3" fill="#d9d9d9"/>
<circle cx="523.0" cy="612.6" r="3" fill="#d9d9d9"/>
<circle cx="495.5" cy="575.9" r="3" fill="#fdc795"/>
<circle cx="505.4" cy="585.9" r="3" fill="#fdc795"/>
<circle cx="533.4" cy="615.3" r="3" fill="#d9d9d9"/>
<circle cx="510.2" cy="600.2" r="3" fill="#f23c3c"/>
<circle cx="544.5" cy="612.4" r="3" fill="#fdc795"/>
<circle cx="497.9" cy="575.2" r="3" fill="#f23c3c"/>
<circle cx="499.9" cy="586.8" r="3" fill="#fdc795"/>
<circle cx="536.4" cy="617.9" r="3" fill="#f23c3c"/>
<circle cx="500.7" cy="581.5" r="3" fill="#d9d9d9"/>
<circle cx="555.4" cy="586.5" r="3" fill="#fdc795"/>
<circle cx="506.1" cy="594.3" r="3" fill="#d9d9d9"/>
<circle cx="498.3" cy="579.4" r="3" fill="#f23c3c"/>
<circle cx="499.0" cy="580.7" r="3" fill="#d9d9d9"/>
<circle cx="522.3" cy="610.3" r="3" fill="#f23c3c"/>
<circle cx="532.8" cy="619.4" r="3" fill="#f23c3c"/>
<circle cx="499.7" cy="579.6" r="3" fill="#d9d9d9"/>
<circle cx="527.6" cy="620.0" r="3" fill="#d9d9d9"/>
<circle cx="524.4" cy="617.5" r="3" fill="#4a4ae0"/>
<circle cx="559.9" cy="580.7" r="3" fill="#d9d9d9"/>
<circle cx="527.2" cy="619.3" r="3" fill="#fdc795"/>
<circle cx="508.1" cy="599.0" r="3" fill="#fdc795"/>
<circle cx="537.3" cy="610.7" r="3" fill="#d9d9d9"/>
<circle cx="504.3" cy="582.4" r="3" fill="#fdc795"/>
<circle cx="537.2" cy="612.3" r="3" fill="#f23c3c"/>
<circle cx="515.7" cy="600.2" r="3" fill="#4a4ae0"/>
<circle cx="542.9" cy="601.2" r="3" fill="#fdc795"/>
<circle cx="494.5" cy="575.6" r="3" fill="#f23c3c"/>
<circle cx="543.4" cy="600.0" r="3" fill="#d9d9d9"/>
<circle cx="552.5" cy="586.3" r="3" fill="#f23c3c"/>
<circle cx="544.3" cy="605.1" r="3" fill="#fdc795"/>
<circle cx="537.8" cy="618.6" r="3" fill="#f23c3c"/>
<circle cx="502.1" cy="587.5" r="3" fill="#f23c3c"/>
<circle cx="525.9" cy="617.0" r="3" fill="#f23c3c"/>
<circle cx="510.4" cy="595.9" r="3" fill="#fdc795"/>
<circle cx="545.7" cy="597.9" r="3" fill="#d9d9d9"/>
<circle cx="535.6" cy="621.1" r="3" fill="#d9d9d9"/>
<circle cx="510.6" cy="596.1" r="3" fill="#f23c3c"/>
<circle cx="522.0" cy="614.6" r="3" fill="#f23c3c"/>
<circle cx="552.7" cy="589.5" r="3" fill="#f23c3c"/>
<circle cx="501.1" cy="579.4" r="3" fill="#d9d9d9"/>
<circle cx="524.4" cy="615.5" r="3" fill="#fdc795"/>
<circle cx="522.4" cy="612.9" r="3" fill="#fdc795"/>
<circle cx="500.7" cy="578.4" r="3" fill="#d9d9d9"/>
<circle cx="536.2" cy="619.0" r="3" fill="#d9d9d9"/>
<circle cx="499.8" cy="576.8" r="3" fill="#f23c3c"/>
<circle cx="494.8" cy="575.1" r="3" fill="#d9d9d9"/>
<circle cx="513.2" cy="602.8" r="3" fill="#fdc795"/>
<circle cx="514.2" cy="598.5" r="3" fill="#f23c3c"/>
<circle cx="521.7" cy="618.4" r="3" fill="#d9d9d9"/>
<circle cx="518.3" cy="619.0" r="3" fill="#f23c3c"/>
<circle cx="511.3" cy="592.7" r="3" fill="#fdc795"/>
<circle cx="545.8" cy="601.2" r="3" fill="#f23c3c"/>
<circle cx="520.0" cy="607.9" r="3" fill="#fdc795"/>
<circle cx="551.9" cy="589.6" r="3" fill="#d9d9d9"/>
<circle cx="513.5" cy="596.7" r="3" fill="#d9d9d9"/>
<circle cx="552.0" cy="586.2" r="3" fill="#fdc795"/>
<circle cx="534.0" cy="615.6" r="3" fill="#d9d9d9"/>
<circle cx="506.5" cy="589.3" r="3" fill="#d9d9d9"/>
<circle cx="543.4" cy="606.4" r="3" fill="#d9d9d9"/>
<circle cx="554.9" cy="588.2" r="3" fill="#f23c3c"/>
<circle cx="533.4" cy="615.9" r="3" fill="#d9d9d9"/>
<circle cx="498.8" cy="575.5" r="3" fill="#f23c3c"/>
<circle cx="560.2" cy="578.2" r="3" fill="#fdc795"/>
<circle cx="547.9" cy="600.3" r="3" fill="#fdc795"/>
<circle cx="515.6" cy="602.1" r="3" fill="#4a4ae0"/>
<circle cx="523.5" cy="621.1" r="3" fill="#fdc795"/>
<circle cx="541.4" cy="613.0" r="3" fill="#fdc795"/>
<circle cx="529.5" cy="621.3" r="3" fill="#f23c3c"/>
<circle cx="560.8" cy="580.4" r="3" fill="#4a4ae0"/>
<circle cx="512.0" cy="595.0" r="3" fill="#fdc795"/>
<circle cx="504.9" cy="593.4" r="3" fill="#f23c3c"/>
<circle cx="564.3" cy="576.7" r="3" fill="#fdc795"/>
<circle cx="548.9" cy="597.1" r="3" fill="#fdc795"/>
<circle cx="546.4" cy="597.1" r="3" fill="#fdc795"/>
<circle cx="544.3" cy="602.8" r="3" fill="#fdc795"/>
<circle cx="522.4" cy="611.3" r="3" fill="#d9d9d9"/>
<circle cx="509.7" cy="597.7" r="3" fill="#f23c3c"/>
<circle cx="539.6" cy="610.5" r="3" fill="#f23c3c"/>
<circle cx="566.6" cy="575.7" r="3" fill="#fdc795"/>
<circle cx="514.4" cy="603.0" r="3" fill="#f23c3c"/>
<circle cx="537.1" cy="618.9" r="3" fill="#f23c3c"/>
<circle cx="502.8" cy="591.4" r="3" fill="#fdc795"/>
<circle cx="516.6" cy="604.1" r="3" fill="#f23c3c"/>
<circle cx="518.9" cy="608.4" r="3" fill="#fdc795"/>
<circle cx="544.3" cy="604.1" r="3" fill="#f23c3c"/>
<circle cx="504.8" cy="589.4" r="3" fill="#d9d9d9"/>
<circle cx="505.1" cy="589.9" r="3" fill="#f23c3c"/>
<circle cx="542.6" cy="601.6" r="3" fill="#f23c3c"/>
<circle cx="509.5" cy="596.4" r="3" fill="#f23c3c"/>
<circle cx="520.0" cy="613.3" r="3" fill="#d9d9d9"/>
<circle cx="526.6" cy="620.7" r="3" fill="#f23c3c"/>
<circle cx="529.5" cy="620.7" r="3" fill="#fdc795"/>
<circle cx="527.0" cy="619.8" r="3" fill="#f23c3c"/>
<circle cx="559.7" cy="576.1" r="3" fill="#fdc795"/>
<circle cx="535.6" cy="614.9" r="3" fill="#d9d9d9"/>
<circle cx="552.1" cy="586.2" r="3" fill="#d9d9d9"/>
<circle cx="507.3" cy="595.7" r="3" fill="#f23c3c"/>
<circle cx="525.1" cy="617.1" r="3" fill="#fdc795"/>
<circle cx="560.5" cy="575.6" r="3" fill="#d9d9d9"/>
<circle cx="539.3" cy="615.9" r="3" fill="#fdc795"/>
<circle cx="542.1" cy="603.8" r="3" fill="#fdc795"/>
<circle cx="542.1" cy="602.7" r="3" fill="#f23c3c"/>
<circle cx="505.1" cy="587.7" r="3" fill="#fdc795"/>
<circle cx="556.4" cy="592.0" r="3" fill="#fdc795"/>
<circle cx="550.3" cy="592.0" r="3" fill="#fdc795"/>
<circle cx="520.9" cy="610.0" r="3" fill="#f23c3c"/>
<circle cx="546.7" cy="604.8" r="3" fill="#f23c3c"/>
<circle cx="539.1" cy="610.4" r="3" fill="#4a4ae0"/>
<circle cx="503.5" cy="590.1" r="3" fill="#f23c3c"/>
<circle cx="551.4" cy="592.9" r="3" fill="#d9d9d9"/>
<circle cx="551.2" cy="589.6" r="3" fill="#d9d9d9"/>
<circle cx="510.8" cy="598.8" r="3" fill="#f23c3c"/>
<circle cx="541.5" cy="604.2" r="3" fill="#f23c3c"/>
<circle cx="534.8" cy="616.8" r="3" fill="#4a4ae0"/>
<circle cx="551.4" cy="594.3" r="3" fill="#d9d9d9"/>
<circle cx="526.9" cy="619.4" r="3" fill="#f23c3c"/>
<circle cx="535.9" cy="618.7" r="3" fill="#f23c3c"/>
<circle cx="552.9" cy="589.3" r="3" fill="#f23c3c"/>
<circle cx="534.1" cy="614.5" r="3" fill="#f23c3c"/>
<circle cx="497.4" cy="576.8" r="3" fill="#fdc795"/>
<circle cx="514.1" cy="600.1" r="3" fill="#f23c3c"/>
<circle cx="561.4" cy="584.9" r="3" fill="#d9d9d9"/>
<circle cx="499.6" cy="586.0" r="3" fill="#fdc795"/>
<circle cx="510.3" cy="600.8" r="3" fill="#d9d9d9"/>
<circle cx="542.0" cy="605.7" r="3" fill="#f23c3c"/>
<circle cx="511.7" cy="595.1" r="3" fill="#f23c3c"/>
<circle cx="539.7" cy="607.2" r="3" fill="#fdc795"/>
<circle cx="557.7" cy="590.1" r="3" fill="#fdc795"/>
<circle cx="502.7" cy="587.6" r="3" fill="#f23c3c"/>
<circle cx="514.7" cy="602.9" r="3" fill="#f23c3c"/>
<circle cx="533.7" cy="615.4" r="3" fill="#fdc795"/>
<circle cx="511.7" cy="597.2" r="3" fill="#fdc795"/>
<circle cx="558.4" cy="581.0" r="3" fill="#f23c3c"/>
<circle cx="549.3" cy="599.6" r="3" fill="#d9d9d9"/>
<circle cx="544.5" cy="602.7" r="3" fill="#fdc795"/>
<circle cx="559.5" cy="577.5" r="3" fill="#d9d9d9"/>
<circle cx="513.9" cy="606.7" r="3" fill="#f23c3c"/>
<circle cx="545.0" cy="600.6" r="3" fill="#d9d9d9"/>
<circle cx="523.0" cy="620.2" r="3" fill="#d9d9d9"/>
<circle cx="514.0" cy="604.4" r="3" fill="#fdc795"/>
<circle cx="508.2" cy="596.6" r="3" fill="#f23c3c"/>
<circle cx="500.1" cy="580.3" r="3" fill="#fdc795"/>
<circle cx="560.3" cy="575.4" r="3" fill="#fdc795"/>
<circle cx="526.6" cy="616.1" r="3" fill="#d9d9d9"/>
<circle cx="508.3" cy="594.2" r="3" fill="#f02020"/>
<circle cx="507.8" cy="596.5" r="3" fill="#f02020"/>
<circle cx="506.9" cy="595.5" r="3" fill="#f02020"/>
<circle cx="549.5" cy="607.9" r="3" fill="#f02020"/>
<circle cx="552.3" cy="607.3" r="3" fill="#f02020"/>
<circle cx="551.4" cy="606.9" r="3" fill="#f02020"/>
<circle cx="497.3" cy="584.6" r="3" fill="#f02020"/>
<circle cx="497.5" cy="585.5" r="3" fill="#f02020"/>
<circle cx="497.4" cy="585.1" r="3" fill="#f02020"/>
<circle cx="501.6" cy="591.6" r="3" fill="#f02020"/>
<circle cx="504.2" cy="593.9" r="3" fill="#f02020"/>
<circle cx="502.6" cy="593.0" r="3" fill="#f02020"/>
<circle cx="549.4" cy="606.5" r="3" fill="#f02020"/>
<circle cx="546.6" cy="606.4" r="3" fill="#f02020"/>
<circle cx="547.3" cy="607.4" r="3" fill="#f02020"/>
<circle cx="512.9" cy="600.7" r="3" fill="#f02020"/>
<circle cx="509.0" cy="600.7" r="3" fill="#f02020"/>
<circle cx="512.8" cy="598.5" r="3" fill="#f02020"/>
<circle cx="521.2" cy="611.1" r="3" fill="#f02020"/>
<circle cx="519.8" cy="610.1" r="3" fill="#f02020"/>
<circle cx="518.8" cy="610.5" r="3" fill="#f02020"/>
<circle cx="544.7" cy="613.2" r="3" fill="#f02020"/>
<circle cx="541.2" cy="612.2" r="3" fill="#f02020"/>
<circle cx="540.3" cy="612.3" r="3" fill="#f02020"/>
<circle cx="398.0" cy="389.0" r="3" fill="#f23c3c"/>
<circle cx="558.8" cy="257.6" r="3" fill="#fdc795"/>
<circle cx="491.7" cy="360.7" r="3" fill="#f23c3c"/>
<circle cx="512.4" cy="403.0" r="3" fill="#fdc795"/>
<circle cx="501.9" cy="408.2" r="3" fill="#d9d9d9"/>
<circle cx="555.0" cy="419.6" r="3" fill="#d9d9d9"/>
<circle cx="504.8" cy="430.7" r="3" fill="#fdc795"/>
<circle cx="605.5" cy="423.7" r="3" fill="#d9d9d9"/>
<circle cx="584.5" cy="443.3" r="3" fill="#f23c3c"/>
<circle cx="566.7" cy="448.2" r="3" fill="#d9d9d9"/>
<circle cx="620.7" cy="446.5" r="3" fill="#fdc795"/>
<circle cx="544.0" cy="460.0" r="3" fill="#d9d9d9"/>
<circle cx="448.2" cy="448.8" r="3" fill="#f23c3c"/>
<circle cx="459.0" cy="460.0" r="3" fill="#f23c3c"/>
<circle cx="499.6" cy="464.9" r="3" fill="#f23c3c"/>
<circle cx="502.5" cy="475.4" r="3" fill="#d9d9d9"/>
<circle cx="500.5" cy="492.3" r="3" fill="#f23c3c"/>
<circle cx="503.8" cy="493.0" r="3" fill="#f23c3c"/>
<circle cx="455.2" cy="505.2" r="3" fill="#f23c3c"/>
<circle cx="493.3" cy="503.7" r="3" fill="#f23c3c"/>
<circle cx="489.8" cy="510.1" r="3" fill="#f23c3c"/>
<circle cx="512.3" cy="511.9" r="3" fill="#fdc795"/>
<circle cx="501.6" cy="515.3" r="3" fill="#fdc795"/>
<circle cx="497.4" cy="516.6" r="3" fill="#fdc795"/>
<circle cx="518.3" cy="520.2" r="3" fill="#fdc795"/>
<circle cx="504.5" cy="522.2" r="3" fill="#fdc795"/>
<circle cx="490.7" cy="525.1" r="3" fill="#fdc795"/>
<circle cx="482.2" cy="526.4" r="3" fill="#f23c3c"/>
<circle cx="500.0" cy="526.4" r="3" fill="#4a4ae0"/>
<circle cx="516.3" cy="530.0" r="3" fill="#fdc795"/>
<circle cx="484.4" cy="533.6" r="3" fill="#fdc795"/>
<circle cx="499.8" cy="534.2" r="3" fill="#fdc795"/>
<circle cx="490.4" cy="538.0" r="3" fill="#f23c3c"/>
<circle cx="507.0" cy="537.6" r="3" fill="#d9d9d9"/>
<circle cx="501.6" cy="539.8" r="3" fill="#fdc795"/>
<circle cx="467.9" cy="542.5" r="3" fill="#f23c3c"/>
<circle cx="472.6" cy="544.5" r="3" fill="#fdc795"/>
<circle cx="504.0" cy="543.8" r="3" fill="#f23c3c"/>
<circle cx="499.4" cy="544.7" r="3" fill="#d9d9d9"/>
<circle cx="487.5" cy="547.0" r="3" fill="#fdc795"/>
<circle cx="497.1" cy="547.9" r="3" fill="#d9d9d9"/>
<circle cx="513.4" cy="547.0" r="3" fill="#fdc795"/>
<circle cx="505.8" cy="551.0" r="3" fill="#f23c3c"/>
<circle cx="506.3" cy="554.3" r="3" fill="#f23c3c"/>
<circle cx="480.6" cy="556.6" r="3" fill="#f23c3c"/>
<circle cx="516.6" cy="557.2" r="3" fill="#d9d9d9"/>
<circle cx="506.7" cy="558.6" r="3" fill="#f23c3c"/>
<circle cx="522.6" cy="559.2" r="3" fill="#fdc795"/>
<circle cx="465.7" cy="561.7" r="3" fill="#d9d9d9"/>
<circle cx="492.0" cy="562.1" r="3" fill="#f23c3c"/>
<circle cx="497.1" cy="560.8" r="3" fill="#4a4ae0"/>
<circle cx="523.9" cy="562.1" r="3" fill="#f23c3c"/>
<circle cx="518.3" cy="565.0" r="3" fill="#f23c3c"/>
<circle cx="509.0" cy="565.0" r="3" fill="#f23c3c"/>
<circle cx="499.4" cy="565.9" r="3" fill="#f23c3c"/>
<circle cx="511.6" cy="567.7" r="3" fill="#f23c3c"/>
<circle cx="526.2" cy="572.6" r="3" fill="#d9d9d9"/>
<circle cx="520.6" cy="569.3" r="3" fill="#fdc795"/>
<circle cx="505.6" cy="570.2" r="3" fill="#fdc795"/>
<circle cx="481.3" cy="575.5" r="3" fill="#4a4ae0"/>
<circle cx="493.1" cy="573.8" r="3" fill="#4a4ae0"/>
<circle cx="495.4" cy="574.9" r="3" fill="#f23c3c"/>
<circle cx="516.8" cy="574.9" r="3" fill="#f23c3c"/>
<circle cx="502.7" cy="577.1" r="3" fill="#fdc795"/>
<circle cx="511.6" cy="576.4" r="3" fill="#f23c3c"/>
<circle cx="490.9" cy="578.9" r="3" fill="#fdc795"/>
<circle cx="506.3" cy="582.9" r="3" fill="#a02060"/>
<circle cx="516.8" cy="583.1" r="3" fill="#4a4ae0"/>
<circle cx="496.0" cy="584.5" r="3" fill="#f23c3c"/>
<circle cx="497.8" cy="584.9" r="3" fill="#f23c3c"/>
<circle cx="514.1" cy="586.7" r="3" fill="#f23c3c"/>
<circle cx="518.3" cy="587.1" r="3" fill="#f23c3c"/>
<circle cx="500.9" cy="591.6" r="3" fill="#f23c3c"/>
<circle cx="503.8" cy="592.7" r="3" fill="#f23c3c"/>
<circle cx="519.0" cy="591.6" r="3" fill="#f23c3c"/>
<circle cx="488.2" cy="594.1" r="3" fill="#fdc795"/>
<circle cx="493.8" cy="598.5" r="3" fill="#fdc795"/>
<circle cx="506.1" cy="599.4" r="3" fill="#f23c3c"/>
<circle cx="509.4" cy="600.5" r="3" fill="#f23c3c"/>
<circle cx="511.6" cy="595.0" r="3" fill="#d9d9d9"/>
<circle cx="519.5" cy="598.3" r="3" fill="#d9d9d9"/>
<circle cx="523.9" cy="601.7" r="3" fill="#f23c3c"/>
<circle cx="501.6" cy="599.4" r="3" fill="#fdc795"/>
<circle cx="507.2" cy="608.3" r="3" fill="#fdc795"/>
<circle cx="509.0" cy="612.1" r="3" fill="#f23c3c"/>
<circle cx="513.9" cy="607.2" r="3" fill="#d9d9d9"/>
<circle cx="519.5" cy="606.6" r="3" fill="#4a4ae0"/>
<circle cx="515.4" cy="617.3" r="3" fill="#f23c3c"/>
<circle cx="522.8" cy="611.7" r="3" fill="#d9d9d9"/>
<circle cx="525.0" cy="615.0" r="3" fill="#d9d9d9"/>
<circle cx="527.3" cy="617.3" r="3" fill="#d9d9d9"/>
<circle cx="526.2" cy="619.5" r="3" fill="#f23c3c"/>
<circle cx="575.8" cy="488.0" r="3" fill="#f23c3c"/>
<circle cx="560.8" cy="495.2" r="3" fill="#4a4ae0"/>
<circle cx="563.5" cy="495.8" r="3" fill="#d9d9d9"/>
<circle cx="603.9" cy="498.8" r="3" fill="#d9d9d9"/>
<circle cx="626.2" cy="500.1" r="3" fill="#fdc795"/>
<circle cx="541.9" cy="503.4" r="3" fill="#d9d9d9"/>
<circle cx="569.6" cy="503.7" r="3" fill="#fdc795"/>
<circle cx="575.8" cy="504.6" r="3" fill="#d9d9d9"/>
<circle cx="576.9" cy="510.1" r="3" fill="#fdc795"/>
<circle cx="558.6" cy="514.2" r="3" fill="#fdc795"/>
<circle cx="558.6" cy="511.9" r="3" fill="#4a4ae0"/>
<circle cx="578.7" cy="516.4" r="3" fill="#d9d9d9"/>
<circle cx="647.2" cy="515.5" r="3" fill="#f23c3c"/>
<circle cx="520.0" cy="520.2" r="3" fill="#fdc795"/>
<circle cx="565.8" cy="530.9" r="3" fill="#d9d9d9"/>
<circle cx="561.3" cy="532.7" r="3" fill="#d9d9d9"/>
<circle cx="598.1" cy="533.8" r="3" fill="#fdc795"/>
<circle cx="555.3" cy="535.8" r="3" fill="#fdc795"/>
<circle cx="568.0" cy="537.1" r="3" fill="#fdc795"/>
<circle cx="575.8" cy="537.1" r="3" fill="#4a4ae0"/>
<circle cx="553.5" cy="539.2" r="3" fill="#d9d9d9"/>
<circle cx="596.6" cy="539.8" r="3" fill="#fdc795"/>
<circle cx="607.0" cy="541.4" r="3" fill="#d9d9d9"/>
<circle cx="543.0" cy="542.5" r="3" fill="#d9d9d9"/>
<circle cx="555.7" cy="543.2" r="3" fill="#fdc795"/>
<circle cx="559.0" cy="545.4" r="3" fill="#d9d9d9"/>
<circle cx="566.9" cy="544.1" r="3" fill="#f23c3c"/>
<circle cx="591.4" cy="545.4" r="3" fill="#fdc795"/>
<circle cx="533.0" cy="551.9" r="3" fill="#d9d9d9"/>
<circle cx="543.9" cy="551.0" r="3" fill="#fdc795"/>
<circle cx="555.9" cy="551.9" r="3" fill="#f23c3c"/>
<circle cx="560.2" cy="553.7" r="3" fill="#fdc795"/>
<circle cx="582.0" cy="552.8" r="3" fill="#d9d9d9"/>
<circle cx="585.0" cy="555.0" r="3" fill="#f23c3c"/>
<circle cx="544.6" cy="560.4" r="3" fill="#4a4ae0"/>
<circle cx="560.6" cy="561.7" r="3" fill="#d9d9d9"/>
<circle cx="523.8" cy="562.1" r="3" fill="#f23c3c"/>
<circle cx="522.2" cy="559.2" r="3" fill="#fdc795"/>
<circle cx="537.9" cy="563.7" r="3" fill="#d9d9d9"/>
<circle cx="577.8" cy="563.0" r="3" fill="#f23c3c"/>
<circle cx="583.8" cy="563.9" r="3" fill="#fdc795"/>
<circle cx="601.5" cy="563.0" r="3" fill="#fdc795"/>
<circle cx="617.8" cy="561.7" r="3" fill="#fdc795"/>
<circle cx="561.3" cy="567.7" r="3" fill="#d9d9d9"/>
<circle cx="553.5" cy="568.8" r="3" fill="#fdc795"/>
<circle cx="569.1" cy="570.0" r="3" fill="#d9d9d9"/>
<circle cx="584.3" cy="570.8" r="3" fill="#d9d9d9"/>
<circle cx="542.3" cy="571.5" r="3" fill="#fdc795"/>
<circle cx="526.2" cy="572.6" r="3" fill="#d9d9d9"/>
<circle cx="553.0" cy="572.9" r="3" fill="#4a4ae0"/>
<circle cx="571.3" cy="573.8" r="3" fill="#fdc795"/>
<circle cx="602.1" cy="576.2" r="3" fill="#f23c3c"/>
<circle cx="557.9" cy="577.8" r="3" fill="#4a4ae0"/>
<circle cx="577.6" cy="577.8" r="3" fill="#d9d9d9"/>
<circle cx="546.8" cy="577.1" r="3" fill="#fdc795"/>
<circle cx="610.6" cy="579.8" r="3" fill="#fdc795"/>
<circle cx="538.5" cy="578.9" r="3" fill="#f23c3c"/>
<circle cx="564.2" cy="582.0" r="3" fill="#f23c3c"/>
<circle cx="566.9" cy="583.8" r="3" fill="#fdc795"/>
<circle cx="549.0" cy="582.7" r="3" fill="#fdc795"/>
<circle cx="577.8" cy="584.9" r="3" fill="#f23c3c"/>
<circle cx="540.1" cy="587.1" r="3" fill="#4a4ae0"/>
<circle cx="554.6" cy="588.3" r="3" fill="#f23c3c"/>
<circle cx="560.8" cy="589.4" r="3" fill="#fdc795"/>
<circle cx="583.6" cy="588.7" r="3" fill="#d9d9d9"/>
<circle cx="574.7" cy="587.8" r="3" fill="#fdc795"/>
<circle cx="618.2" cy="591.6" r="3" fill="#fdc795"/>
<circle cx="553.5" cy="593.4" r="3" fill="#f23c3c"/>
<circle cx="579.2" cy="593.8" r="3" fill="#fdc795"/>
<circle cx="588.8" cy="595.6" r="3" fill="#fdc795"/>
<circle cx="569.6" cy="596.5" r="3" fill="#fdc795"/>
<circle cx="534.5" cy="595.0" r="3" fill="#d9d9d9"/>
<circle cx="564.2" cy="598.8" r="3" fill="#fdc795"/>
<circle cx="560.2" cy="600.8" r="3" fill="#f23c3c"/>
<circle cx="551.2" cy="603.2" r="3" fill="#4a4ae0"/>
<circle cx="542.3" cy="599.4" r="3" fill="#d9d9d9"/>
<circle cx="547.9" cy="607.2" r="3" fill="#f23c3c"/>
<circle cx="550.1" cy="608.3" r="3" fill="#f23c3c"/>
<circle cx="560.2" cy="609.9" r="3" fill="#fdc795"/>
<circle cx="523.3" cy="600.5" r="3" fill="#f23c3c"/>
<circle cx="522.2" cy="602.8" r="3" fill="#d9d9d9"/>
<circle cx="537.9" cy="609.5" r="3" fill="#f23c3c"/>
<circle cx="535.6" cy="605.0" r="3" fill="#d9d9d9"/>
<circle cx="524.5" cy="608.3" r="3" fill="#f23c3c"/>
<circle cx="540.1" cy="619.5" r="3" fill="#f23c3c"/>
<circle cx="533.4" cy="616.2" r="3" fill="#d9d9d9"/>
<circle cx="528.9" cy="620.6" r="3" fill="#d9d9d9"/>
<circle cx="526.7" cy="617.3" r="3" fill="#d9d9d9"/>
<circle cx="534.8" cy="615.1" r="3" fill="#d9d9d9"/>
<circle cx="529.7" cy="620.0" r="3" fill="#d9d9d9"/>
<circle cx="534.9" cy="609.1" r="3" fill="#d9d9d9"/>
<circle cx="535.6" cy="610.6" r="3" fill="#f23c3c"/>
<circle cx="527.3" cy="619.1" r="3" fill="#d9d9d9"/>
<circle cx="526.8" cy="618.2" r="3" fill="#e4dcdc"/>
<circle cx="525.0" cy="620.0" r="3" fill="#d9d9d9"/>
<circle cx="536.4" cy="608.4" r="3" fill="#f23c3c"/>
<circle cx="525.5" cy="612.8" r="3" fill="#d9d9d9"/>
<circle cx="529.7" cy="615.9" r="3" fill="#d9d9d9"/>
<circle cx="537.7" cy="609.1" r="3" fill="#d9d9d9"/>
<circle cx="525.3" cy="611.2" r="3" fill="#d9d9d9"/>
<circle cx="530.8" cy="618.3" r="3" fill="#d9d9d9"/>
<circle cx="533.1" cy="612.8" r="3" fill="#e4dcdc"/>
<circle cx="529.7" cy="618.8" r="3" fill="#d9d9d9"/>
<circle cx="529.0" cy="619.1" r="3" fill="#e4dcdc"/>
<circle cx="524.5" cy="609.3" r="3" fill="#d9d9d9"/>
<circle cx="523.9" cy="608.3" r="3" fill="#d9d9d9"/>
<circle cx="532.6" cy="611.7" r="3" fill="#d9d9d9"/>
<circle cx="523.3" cy="613.6" r="3" fill="#d9d9d9"/>
<circle cx="522.7" cy="609.1" r="3" fill="#d9d9d9"/>
<circle cx="533.0" cy="612.0" r="3" fill="#d9d9d9"/>
<circle cx="534.8" cy="608.8" r="3" fill="#f23c3c"/>
<circle cx="523.3" cy="606.3" r="3" fill="#d9d9d9"/>
<circle cx="526.2" cy="615.3" r="3" fill="#d9d9d9"/>
<circle cx="527.8" cy="621.0" r="3" fill="#d9d9d9"/>
<circle cx="523.3" cy="605.7" r="3" fill="#d9d9d9"/>
<circle cx="524.8" cy="615.0" r="3" fill="#d9d9d9"/>
<circle cx="525.7" cy="614.5" r="3" fill="#d9d9d9"/>
<circle cx="527.3" cy="618.5" r="3" fill="#d9d9d9"/>
<circle cx="536.4" cy="611.8" r="3" fill="#d9d9d9"/>
<circle cx="536.5" cy="608.1" r="3" fill="#e4dcdc"/>
<circle cx="535.8" cy="613.5" r="3" fill="#d9d9d9"/>
<circle cx="530.9" cy="614.6" r="3" fill="#d9d9d9"/>
</g>
<g font-size="12.9">
<text x="404.3" y="393.4">COX5A</text>
<text x="399.7" y="454.6">COX6C</text>
<text x="414.1" y="473.8">MT-CO2</text>
<text x="612.8" y="427.6">PTRF</text>
<text x="628" y="450.9">SEPTIN7</text>
<text x="576.2" y="457.6">RDH13</text>
</g>
</svg></body></html>
